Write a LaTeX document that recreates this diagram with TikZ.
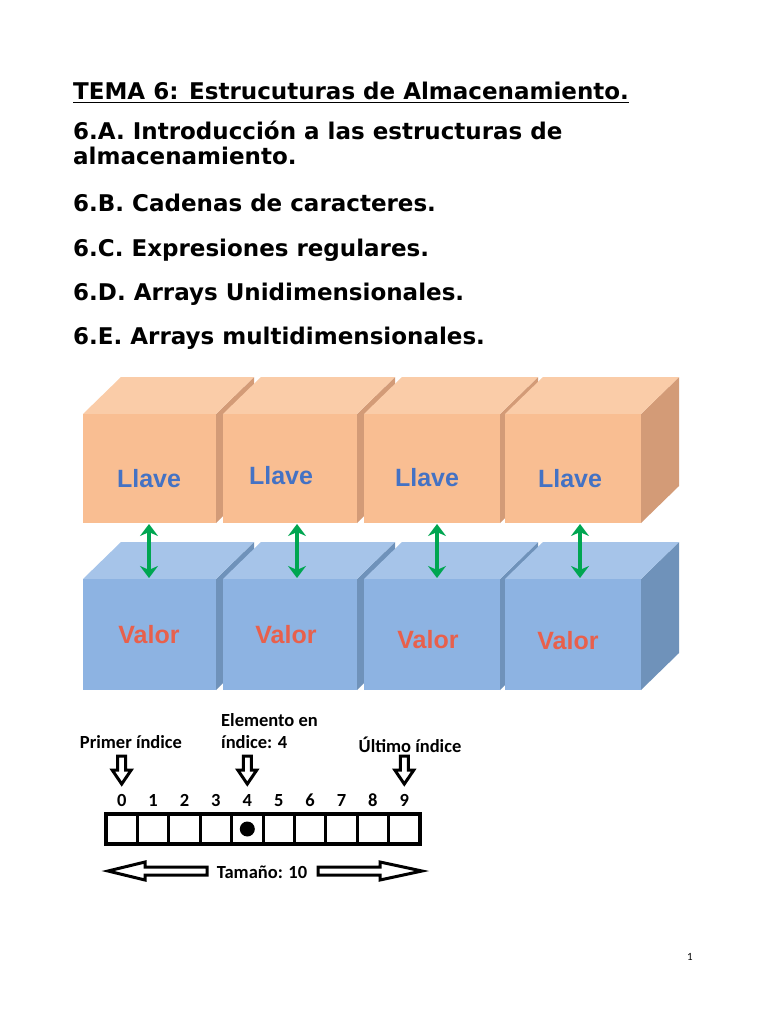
\documentclass[tikz,border=0pt]{standalone}
\usetikzlibrary{arrows.meta}
\usepackage{fontspec}
\setmainfont{DejaVu Sans}
\newfontfamily\arialf{Liberation Sans}
\newfontfamily\calf{Carlito}
\begin{document}
\begin{tikzpicture}[x=1pt,y=-1pt,
  head/.style={anchor=base west,inner sep=0pt,font=\fontsize{23}{27}\selectfont\bfseries},
  lbl/.style={font=\arialf\fontsize{25}{29}\selectfont\bfseries},
  alab/.style={font=\calf\fontsize{18.5}{21}\selectfont\bfseries,inner sep=0pt},
  hollow/.style={draw=black,line width=3pt,fill=white,line join=miter},
  garrow/.style={color={rgb,255:red,0;green,166;blue,81},line width=4pt,{Stealth[length=12pt,width=18pt]}-{Stealth[length=12pt,width=18pt]}}]
\useasboundingbox (0,0) rectangle (768,1024);
\definecolor{pf}{RGB}{249,190,146}\definecolor{pt}{RGB}{250,204,168}\definecolor{ps}{RGB}{211,155,119}
\definecolor{bf}{RGB}{141,179,226}\definecolor{bt}{RGB}{166,196,233}\definecolor{bs}{RGB}{111,146,186}
\definecolor{lb}{RGB}{68,114,196}\definecolor{vr}{RGB}{232,96,76}
\node[head] (t0) at (73,100) {\underline{TEMA 6: Estrucuturas de Almacenamiento.}};
\node[head] (t1) at (73,140) {6.A. Introducción a las estructuras de};
\node[head] (t1b) at (73,165) {almacenamiento.};
\node[head] (t2) at (73,212) {6.B. Cadenas de caracteres.};
\node[head] (t3) at (73,256) {6.C. Expresiones regulares.};
\node[head] (t4) at (73,300) {6.D. Arrays Unidimensionales.};
\node[head] (t5) at (73,344) {6.E. Arrays multidimensionales.};
% cubes
\def\dx{38}\def\dy{-37}
\foreach \xa/\xb [count=\i] in {83/216,223/357,364/500,505/641}{
  \foreach \ya/\yb/\cf/\ct/\cs in {414/523/pf/pt/ps,579/690/bf/bt/bs}{
    \fill[\cs] (\xb,\ya) -- ++(\dx,\dy) -- ++(0,\yb-\ya) -- (\xb,\yb) -- cycle;
    \fill[\ct] (\xa,\ya) -- ++(\dx,\dy) -- ++(\xb-\xa,0) -- (\xb,\ya) -- cycle;
    \fill[\cf] (\xa,\ya) rectangle (\xb,\yb);
  }
}
\foreach \x/\y [count=\i] in {149/479,281/476,427/478,570/479}{\node[lbl,text=lb] (k\i) at (\x,\y) {Llave};}
\foreach \x/\y [count=\i] in {149/635,286/635,428/640,568/641}{\node[lbl,text=vr] (v\i) at (\x,\y) {Valor};}
\foreach \x [count=\i] in {149,297,437,580}{
  \coordinate (a\i) at (\x,524); \coordinate (b\i) at (\x,578);
  \draw[garrow] (a\i) -- (b\i);}
% array
\draw[line width=3.5pt] (106,814) rectangle (420,844);
\foreach \i in {1,...,9}{\draw[line width=3pt] ({106+31.4*\i},814) -- ({106+31.4*\i},844);}
\foreach \i in {0,...,9}{\node[alab,anchor=base] (d\i) at ({121.7+31.4*\i},806) {\i};}
\fill (247.3,829) circle (7.5pt);
\foreach \i in {0,4,9}{
  \pgfmathsetmacro\cx{121.7+31.4*\i}
  \draw[hollow] (\cx-4,756) -- (\cx+4,756) -- (\cx+4,770) -- (\cx+9.5,770) -- (\cx,784) -- (\cx-9.5,770) -- (\cx-4,770) -- cycle;}
\node[alab] (p0) at (131,742) {Primer índice};
\node[alab,anchor=west] (e1) at (221,720) {Elemento en};
\node[alab,anchor=west] (e2) at (221,742) {índice: 4};
\node[alab] (p9) at (410,745) {Último índice};
\node[alab] (tam) at (262,872) {Tamaño: 10};
\draw[hollow] (207,867) -- (145,867) -- (145,862) -- (108,871) -- (145,880) -- (145,875) -- (207,875) -- cycle;
\draw[hollow] (318,867) -- (380,867) -- (380,862) -- (422,871) -- (380,880) -- (380,875) -- (318,875) -- cycle;
\node[font=\calf\fontsize{11}{13}\selectfont] (pg) at (690,957) {1};
\end{tikzpicture}
\end{document}
